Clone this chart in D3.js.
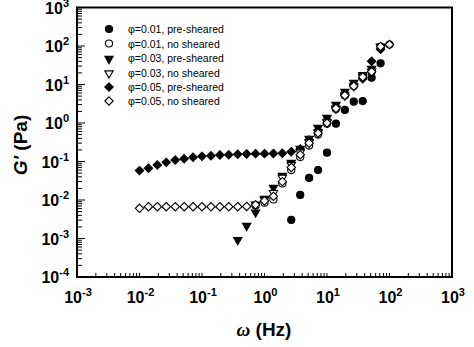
<!DOCTYPE html>
<html>
<head>
<meta charset="utf-8">
<script src="https://cdn.jsdelivr.net/npm/d3@7"></script>
<style>
body { margin: 0; background: #fff; }
text { font-family: "Liberation Sans", Arial, sans-serif; }
</style>
</head>
<body>
<div id="chart"></div>
<script>
// frequencies (Hz), 7 points per decade
var freq = [0.01, 0.0139, 0.0193, 0.0268, 0.0373, 0.0518, 0.072, 0.1, 0.139, 0.193,
            0.268, 0.373, 0.518, 0.72, 1.0, 1.39, 1.93, 2.68, 3.73, 5.18,
            7.2, 10, 13.9, 19.3, 26.8, 37.3, 51.8, 72, 100];

// G' (Pa) per series, null = no point
var g01pre = [null, null, null, null, null, null, null, null, null, null,
              null, null, null, null, null, null, null, 0.00303, 0.0135, 0.0373,
              0.060, 0.169, 0.96, 2.18, 3.57, 3.72, 15.0, 35.5, null];
var g01no  = [null, null, null, null, null, null, null, null, null, null,
              null, null, null, 0.0072, 0.0085, 0.0103, 0.027, 0.06, 0.13, 0.26,
              0.5, 0.95, 2.3, 5.2, 9.1, 15.7, 21.5, 97, 109];
var g03pre = [null, null, null, null, null, null, null, null, null, null,
              null, 0.00096, 0.00224, 0.0050, 0.0113, 0.0218, 0.0446, 0.097, 0.224, 0.41,
              0.787, 1.43, 3.12, 6.78, 11.6, 18.7, 26.9, 100, null];
var g03no  = [null, null, null, null, null, null, null, null, null, null,
              null, null, null, 0.008, 0.0105, 0.016, 0.04, 0.085, 0.18, 0.33,
              0.6, 1.1, 2.5, 5.5, 9.5, 16.5, 23, 100, null];
var g05pre = [0.058, 0.067, 0.081, 0.095, 0.109, 0.118, 0.129, 0.136, 0.141, 0.148,
              0.150, 0.154, 0.157, 0.160, 0.160, 0.162, 0.163, 0.18, 0.21, 0.36,
              0.65, 1.2, 2.6, 5.6, 9.8, 14, 40, 82, null];
var g05no  = [0.0061, 0.0067, 0.0067, 0.0067, 0.0067, 0.0067, 0.0067, 0.0067, 0.0067, 0.0067,
              0.0067, 0.0067, 0.0068, 0.0075, 0.0095, 0.0125, 0.03, 0.07, 0.15, 0.30,
              0.55, 1.0, 2.4, 5.2, 9.1, 15.7, 21.5, 97, 109];

var legendLabels = ["φ=0.01, pre-sheared", "φ=0.01, no sheared", "φ=0.03, pre-sheared",
                    "φ=0.03, no sheared", "φ=0.05, pre-sheared", "φ=0.05, no sheared"];
var tickExp = [-3, -2, -1, 0, 1, 2, 3];
var yTickExp = [-4, -3, -2, -1, 0, 1, 2, 3];

var W = 474, H = 347;
var pLeft = 77, pRight = 452, pTop = 7.5, pBottom = 277;

var svg = d3.select("#chart").append("svg")
    .attr("width", W).attr("height", H);

var x = d3.scaleLog().domain([1e-3, 1e3]).range([pLeft, pRight]);
var y = d3.scaleLog().domain([1e-4, 1e3]).range([pBottom, pTop]);

// marker shapes
var circle = d3.symbol().type(d3.symbolCircle).size(40);
var tri = d3.symbol().type(d3.symbolTriangle).size(30);
function diamond(r) {
    return "M0," + (-r) + "L" + r + ",0L0," + r + "L" + (-r) + ",0Z";
}
var styles = [
    {data: g01pre, shape: "c", fill: "#000"},
    {data: g01no,  shape: "c", fill: "#fff"},
    {data: g03pre, shape: "t", fill: "#000"},
    {data: g03no,  shape: "t", fill: "#fff"},
    {data: g05pre, shape: "d", fill: "#000"},
    {data: g05no,  shape: "d", fill: "#fff"}
];
function shapePath(s) {
    if (s == "c") return circle();
    if (s == "t") return tri();
    return diamond(4.2);
}
function shapeTransform(s, px, py) {
    if (s == "t") return "translate(" + px + "," + (py + 0.8) + ") rotate(180)";
    return "translate(" + px + "," + py + ")";
}

// frame
svg.append("rect")
    .attr("x", pLeft).attr("y", pTop)
    .attr("width", pRight - pLeft).attr("height", pBottom - pTop)
    .attr("fill", "none").attr("stroke", "#000").attr("stroke-width", 2);

// x ticks (inward)
var xMinor = [];
for (var e = -3; e < 3; e++) {
    for (var m = 1; m < 10; m++) xMinor.push(m * Math.pow(10, e));
}
svg.append("g").selectAll("line").data(xMinor).enter().append("line")
    .attr("x1", function(d) { return x(d); })
    .attr("x2", function(d) { return x(d); })
    .attr("y1", pBottom)
    .attr("y2", pBottom - 4)
    .attr("stroke", "#000").attr("stroke-width", 1);

// y ticks (inward)
var yMinor = [];
for (var e2 = -4; e2 < 3; e2++) {
    for (var m2 = 1; m2 < 10; m2++) yMinor.push(m2 * Math.pow(10, e2));
}
svg.append("g").selectAll("line").data(yMinor).enter().append("line")
    .attr("x1", pLeft)
    .attr("x2", function(d) {
        var l = Math.log10(d);
        return pLeft + (Math.abs(l - Math.round(l)) < 1e-9 ? 8 : 5);
    })
    .attr("y1", function(d) { return y(d); })
    .attr("y2", function(d) { return y(d); })
    .attr("stroke", "#000").attr("stroke-width", 1);

// tick labels 10^n
function powLabel(g, e) {
    g.append("tspan").text("10");
    g.append("tspan").attr("font-size", 11).attr("dy", -7).text(e < 0 ? "-" + (-e) : e);
}
tickExp.forEach(function(e) {
    var t = svg.append("text")
        .attr("x", x(Math.pow(10, e)) + 1)
        .attr("y", 303)
        .attr("text-anchor", "middle")
        .attr("font-size", 16).attr("font-weight", "bold");
    powLabel(t, e);
});
yTickExp.forEach(function(e) {
    var t = svg.append("text")
        .attr("x", 69)
        .attr("y", y(Math.pow(10, e)) + 6)
        .attr("text-anchor", "end")
        .attr("font-size", 16).attr("font-weight", "bold");
    powLabel(t, e);
});

// axis titles
var xt = svg.append("text")
    .attr("x", 264).attr("y", 336)
    .attr("text-anchor", "middle")
    .attr("font-size", 19).attr("font-weight", "bold");
xt.append("tspan").attr("font-style", "italic").attr("font-family", "'Liberation Serif', serif").text("ω");
xt.append("tspan").text(" (Hz)");

var yt = svg.append("text")
    .attr("transform", "translate(27,145) rotate(-90)")
    .attr("text-anchor", "middle")
    .attr("font-size", 19).attr("font-weight", "bold");
yt.append("tspan").attr("font-style", "italic").text("G'");
yt.append("tspan").text(" (Pa)");

// points: filled series first, then open ones on top
var order = [0, 2, 4, 1, 3, 5];
order.forEach(function(i) {
    var s = styles[i];
    var pts = [];
    s.data.forEach(function(v, k) { if (v != null) pts.push([freq[k], v]); });
    svg.append("g").selectAll("path").data(pts).enter().append("path")
        .attr("d", shapePath(s.shape))
        .attr("transform", function(d) { return shapeTransform(s.shape, x(d[0]), y(d[1])); })
        .attr("fill", s.fill)
        .attr("stroke", "#000")
        .attr("stroke-width", 1.1);
});

// legend
var legY = [29, 43.5, 58, 72.5, 87, 101];
styles.forEach(function(s, i) {
    svg.append("path")
        .attr("d", shapePath(s.shape))
        .attr("transform", shapeTransform(s.shape, 109, legY[i]))
        .attr("fill", s.fill).attr("stroke", "#000").attr("stroke-width", 1.1);
    svg.append("text")
        .attr("x", 128).attr("y", legY[i] + 4)
        .attr("font-size", 10.5)
        .text(legendLabels[i]);
});
</script>
</body>
</html>
